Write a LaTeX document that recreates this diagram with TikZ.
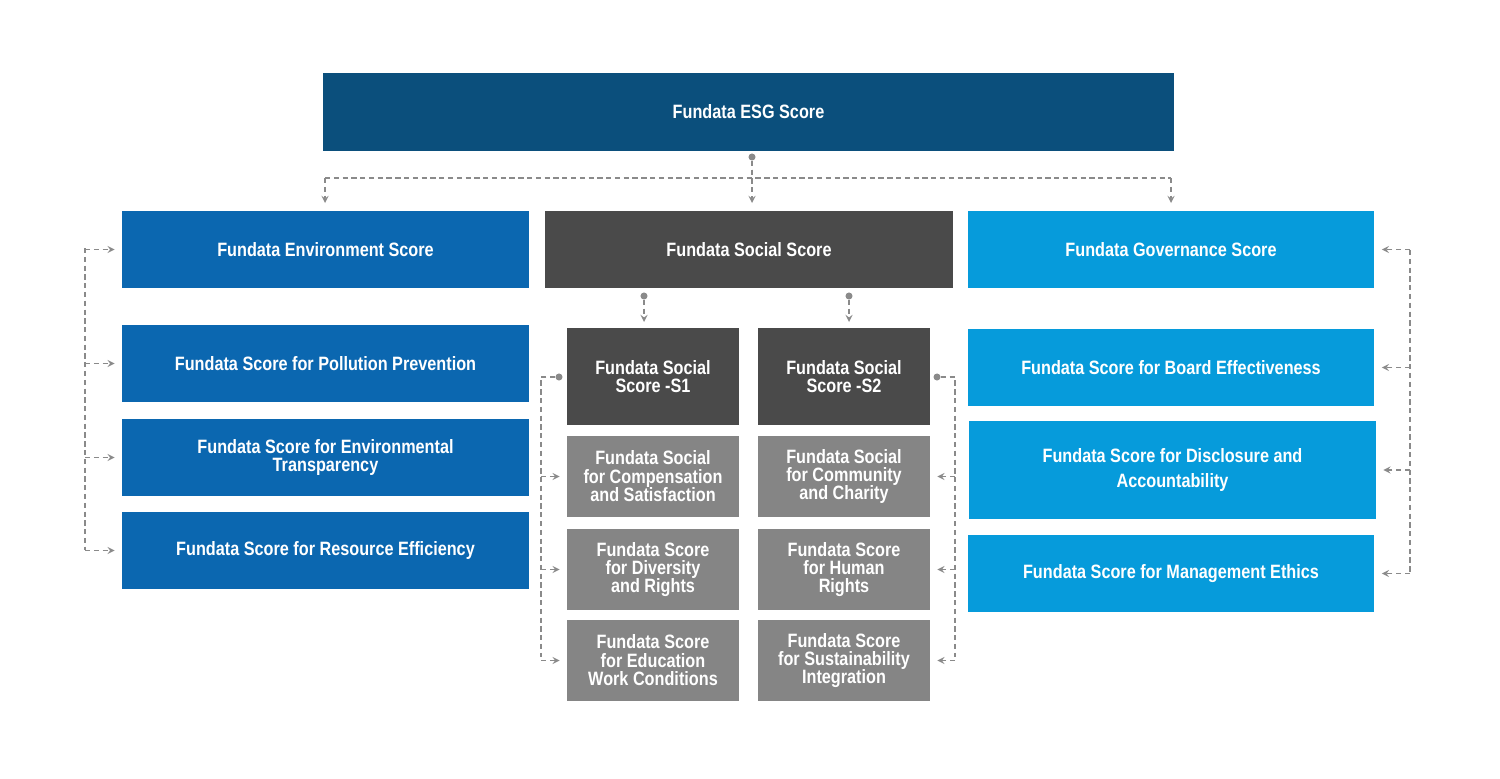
\documentclass[tikz,border=0pt]{standalone}
\usepackage{fontspec}
\setmainfont[FakeStretch=0.84]{Liberation Sans}
\usetikzlibrary{arrows,positioning}
\definecolor{esgblue}{HTML}{0B4F7C}
\definecolor{envblue}{HTML}{0B67B0}
\definecolor{govblue}{HTML}{069BDB}
\definecolor{socdark}{HTML}{4A4A4A}
\definecolor{socgray}{HTML}{858585}
\definecolor{linegray}{HTML}{8A8A8A}
\begin{document}
\begin{tikzpicture}[
    x=0.02cm, y=-0.02cm,
    box/.style={rectangle, inner sep=0pt, text=white, align=center, font=\fontsize{11}{10.5}\selectfont\bfseries},
    wide/.style={box, minimum width=8.14cm, minimum height=1.54cm},
    small/.style={box, minimum width=3.44cm, minimum height=1.62cm, fill=socgray},
    link/.style={dashed, dash pattern=on 3pt off 2pt, draw=linegray, thick},
    arrow/.style={link, -stealth},
    dot/.style={circle, fill=linegray, inner sep=0pt, minimum size=4pt}
]
\useasboundingbox (0,0) rectangle (1500,778);
% top
\node[box, fill=esgblue, minimum width=17.02cm, minimum height=1.56cm] (esg) at (748.5,112) {Fundata ESG Score};
% pillars
\node[wide, fill=envblue] (env) at (325.5,249.5) {Fundata Environment Score};
\node[wide, fill=socdark, minimum width=8.16cm] (soc) at (749,249.5) {Fundata Social Score};
\node[wide, fill=govblue] (gov) at (1171,249.5) {Fundata Governance Score};
% environment
\node[wide, fill=envblue] (env1) at (325.5,363.5) {Fundata Score for Pollution Prevention};
\node[wide, fill=envblue] (env2) at (325.5,457.5) {Fundata Score for Environmental\\Transparency};
\node[wide, fill=envblue] (env3) at (325.5,550.5) {Fundata Score for Resource Efficiency};
% governance
\node[wide, fill=govblue] (gov1) at (1171,367.5) {Fundata Score for Board Effectiveness};
\node[wide, fill=govblue, minimum height=1.96cm, font=\fontsize{11}{14}\selectfont\bfseries] (gov2) at (1172.5,470) {Fundata Score for Disclosure and\\Accountability};
\node[wide, fill=govblue] (gov3) at (1171,573.5) {Fundata Score for Management Ethics};
% social
\node[small, fill=socdark, minimum height=1.94cm] (s1) at (653,376.5) {Fundata Social\\Score -S1};
\node[small, fill=socdark, minimum height=1.94cm] (s2) at (844,376.5) {Fundata Social\\Score -S2};
\node[small] (s11) at (653,476.5) {Fundata Social\\for Compensation\\and Satisfaction};
\node[small] (s12) at (653,569.5) {Fundata Score\\for Diversity\\and Rights};
\node[small] (s13) at (653,660.5) {Fundata Score\\for Education\\Work Conditions};
\node[small] (s21) at (844,476.5) {Fundata Social\\for Community\\and Charity};
\node[small] (s22) at (844,569.5) {Fundata Score\\for Human\\Rights};
\node[small] (s23) at (844,660.5) {Fundata Score\\for Sustainability\\Integration};
% esg links
\node[dot] (d0) at (752,157) {};
\coordinate (hl) at (325,178);
\coordinate (hr) at (1171,178);
\draw[link] (d0) -- (752,178);
\draw[link] (hl) -- (hr);
\draw[arrow] (hl) -- (325,203);
\draw[arrow] (d0) -- (752,203);
\draw[arrow] (hr) -- (1171,203);
% environment bracket
\coordinate (el) at (85,248);
\coordinate (eb) at (85,550);
\draw[link] (el) -- (eb);
\foreach \n in {env, env1, env2, env3}
  \draw[arrow] (el |- \n.west) -- ([xshift=-4pt]\n.west);
% governance bracket
\coordinate (gr) at (1410,250);
\coordinate (gb) at (1410,573);
\draw[link] (gr) -- (gb);
\foreach \n in {gov, gov1, gov2, gov3}
  \draw[arrow] (gr |- \n.east) -- ([xshift=4pt]\n.east);
% social links
\node[dot] (d1) at (644,296) {};
\node[dot] (d2) at (849,296) {};
\draw[arrow] (d1) -- (644,322);
\draw[arrow] (d2) -- (849,322);
\node[dot] (d3) at (559,377) {};
\node[dot] (d4) at (937,377) {};
\coordinate (l3) at (541,377);
\coordinate (l4) at (955,377);
\draw[link] (d3) -- (l3) -- (541,657);
\draw[link] (d4) -- (l4) -- (955,657);
\foreach \n in {s11, s12, s13}
  \draw[arrow] (l3 |- \n.west) -- ([xshift=-4pt]\n.west);
\foreach \n in {s21, s22, s23}
  \draw[arrow] (l4 |- \n.east) -- ([xshift=4pt]\n.east);
\end{tikzpicture}
\end{document}
